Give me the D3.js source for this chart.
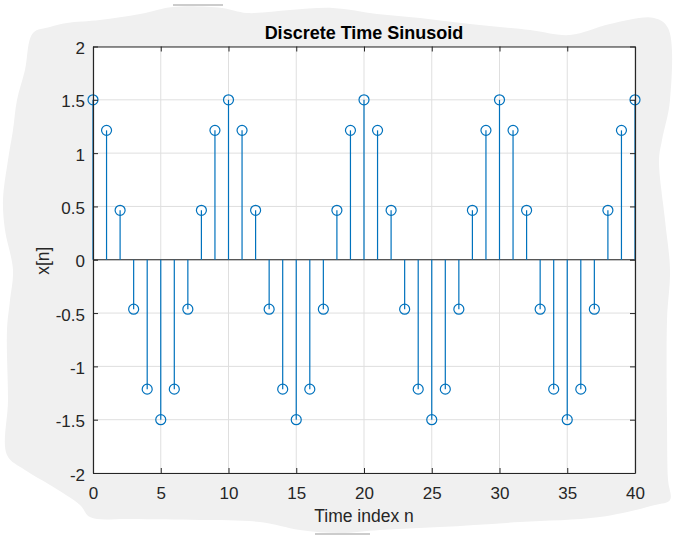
<!DOCTYPE html>
<html><head><meta charset="utf-8">
<script src="https://cdn.jsdelivr.net/npm/d3@7"></script>
<style>body{margin:0;background:#fff}svg{display:block}</style>
</head><body>
<script>
const nValues = [0,1,2,3,4,5,6,7,8,9,10,11,12,13,14,15,16,17,18,19,20,21,22,23,24,25,26,27,28,29,30,31,32,33,34,35,36,37,38,39,40];
const xValues = [1.5,1.2135,0.4635,-0.4635,-1.2135,-1.5,-1.2135,-0.4635,0.4635,1.2135,
                 1.5,1.2135,0.4635,-0.4635,-1.2135,-1.5,-1.2135,-0.4635,0.4635,1.2135,
                 1.5,1.2135,0.4635,-0.4635,-1.2135,-1.5,-1.2135,-0.4635,0.4635,1.2135,
                 1.5,1.2135,0.4635,-0.4635,-1.2135,-1.5,-1.2135,-0.4635,0.4635,1.2135,
                 1.5];
const xTicks = [0,5,10,15,20,25,30,35,40];
const yTicks = [-2,-1.5,-1,-0.5,0,0.5,1,1.5,2];
const titleText = "Discrete Time Sinusoid";
const xLabelText = "Time index n";
const yLabelText = "x[n]";

const W = 677, H = 540;
const svg = d3.select("body").append("svg").attr("width", W).attr("height", H);

// torn-paper figure background
const blob = [[33,33],[50,27],[67,23],[100,20],[140,14],[173,7],[222,8],[247,13],[290,10],[333,8],[377,14],[420,18],[470,24],[530,30],[570,35],[610,24],[654,18],[668,28],[670,100],[662,140],[659,160],[665,220],[670,270],[667,320],[667,420],[668,480],[670,500],[655,505],[600,517],[520,522],[440,527],[380,530],[340,533],[300,530],[260,522],[200,520],[130,519],[90,517],[80,505],[50,485],[25,470],[7,455],[8,400],[7,330],[10,300],[13,270],[5,230],[3,200],[8,160],[13,130],[17,100],[25,70]];
svg.append("path").attr("d", d3.line().curve(d3.curveCatmullRomClosed)(blob)).attr("fill", "#f0f0f0");
svg.append("line").attr("x1",173).attr("x2",223).attr("y1",5).attr("y2",5).attr("stroke","#9a9a9a").attr("stroke-width",1.2);
svg.append("line").attr("x1",315).attr("x2",370).attr("y1",534).attr("y2",534).attr("stroke","#9a9a9a").attr("stroke-width",1.2);

const m = {l:93, r:635, t:46.5, b:473};
const x = d3.scaleLinear().domain([0,40]).range([m.l, m.r]);
const y = d3.scaleLinear().domain([-2,2]).range([m.b, m.t]);

const g = svg.append("g");
g.append("rect").attr("x", m.l).attr("y", m.t).attr("width", m.r-m.l).attr("height", m.b-m.t).attr("fill", "#fff");

// grid
g.selectAll(".gx").data(xTicks).join("line")
  .attr("x1", d=>x(d)).attr("x2", d=>x(d)).attr("y1", m.t).attr("y2", m.b)
  .attr("stroke", "#dfdfdf").attr("stroke-width", 1);
g.selectAll(".gy").data(yTicks).join("line")
  .attr("x1", m.l).attr("x2", m.r).attr("y1", d=>y(d)).attr("y2", d=>y(d))
  .attr("stroke", "#dfdfdf").attr("stroke-width", 1);

// baseline
g.append("line").attr("x1", m.l).attr("x2", m.r).attr("y1", y(0)).attr("y2", y(0))
  .attr("stroke", "#262626").attr("stroke-width", 1.2);

// stems
const data = nValues.map((n,i)=>({n, v:xValues[i]}));
g.selectAll(".stem").data(data).join("line")
  .attr("x1", d=>x(d.n)).attr("x2", d=>x(d.n)).attr("y1", y(0)).attr("y2", d=>y(d.v))
  .attr("stroke", "#0072BD").attr("stroke-width", 1.2);
g.selectAll(".mk").data(data).join("circle")
  .attr("cx", d=>x(d.n)).attr("cy", d=>y(d.v)).attr("r", 5)
  .attr("fill", "none").attr("stroke", "#0072BD").attr("stroke-width", 1.2);

// axes box with inward ticks
const axCol = "#262626";
const font = "'Liberation Sans', Arial, Helvetica, sans-serif";
const xb = d3.axisBottom(x).tickValues(xTicks).tickSizeInner(-5).tickSizeOuter(0).tickPadding(14).tickFormat(d3.format("d"));
const xt = d3.axisTop(x).tickValues(xTicks).tickSizeInner(-5).tickSizeOuter(0).tickFormat("");
const yl = d3.axisLeft(y).tickValues(yTicks).tickSizeInner(-5).tickSizeOuter(0).tickPadding(8).tickFormat(d=>String(d));
const yr = d3.axisRight(y).tickValues(yTicks).tickSizeInner(-5).tickSizeOuter(0).tickFormat("");
function style(sel){
  sel.select(".domain").attr("stroke", axCol).attr("stroke-width", 1.2);
  sel.selectAll(".tick line").attr("stroke", axCol).attr("stroke-width", 1);
  sel.selectAll(".tick text").attr("fill", axCol).style("font-family", font).style("font-size", "17px");
}
g.append("g").attr("transform", `translate(0,${m.b})`).call(xb).call(style);
g.append("g").attr("transform", `translate(0,${m.t})`).call(xt).call(style);
const ga = g.append("g").attr("transform", `translate(${m.l},0)`).call(yl).call(style);
ga.selectAll(".tick text").attr("dy", "0.42em");
g.append("g").attr("transform", `translate(${m.r},0)`).call(yr).call(style);

svg.append("text").attr("x", (m.l+m.r)/2).attr("y", 39).attr("text-anchor","middle")
  .style("font-family", font).style("font-size","18px").style("font-weight","bold").attr("fill","#000").text(titleText);
svg.append("text").attr("x", (m.l+m.r)/2).attr("y", 522).attr("text-anchor","middle")
  .style("font-family", font).style("font-size","17.5px").attr("fill", axCol).text(xLabelText);
svg.append("text").attr("transform", `translate(49,${(m.t+m.b)/2 + 1}) rotate(-90)`).attr("text-anchor","middle")
  .style("font-family", font).style("font-size","17.5px").attr("fill", axCol).text(yLabelText);
</script>
</body></html>
